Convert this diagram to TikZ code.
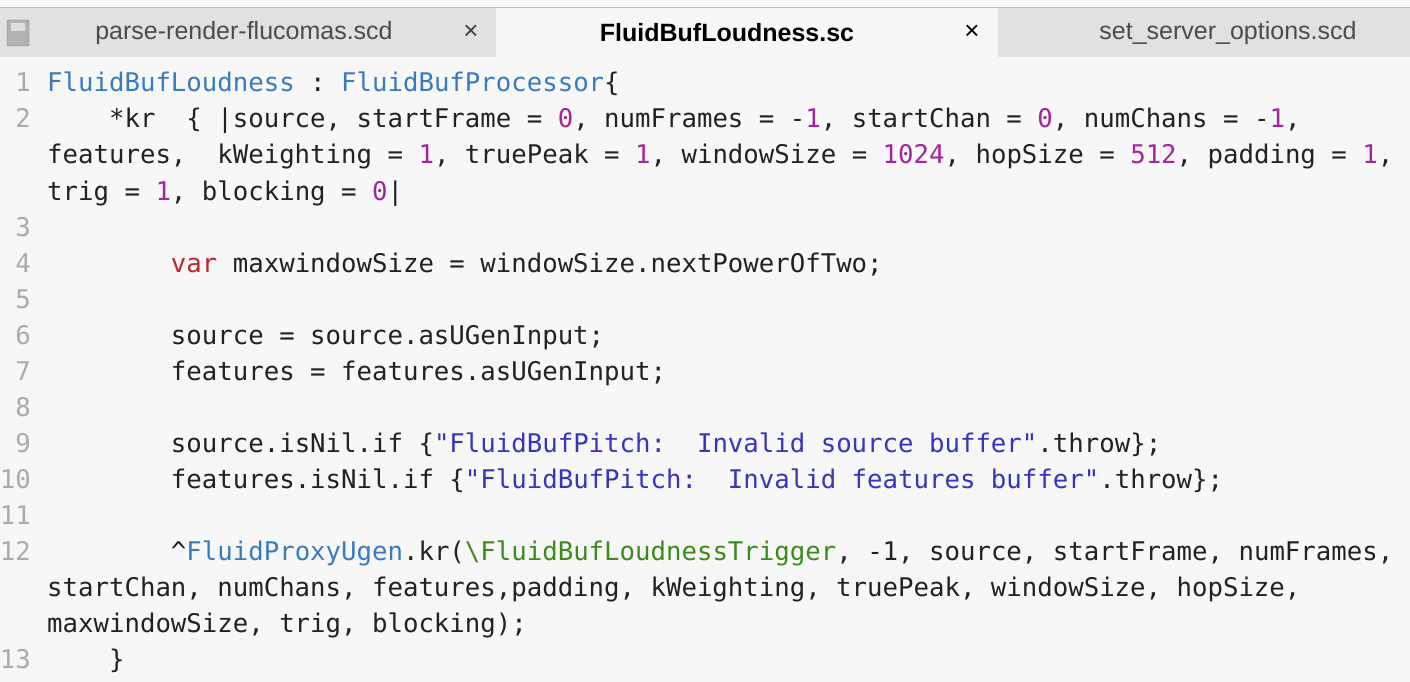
\documentclass[tikz,border=0pt]{standalone}
\usepackage{fontspec}
\setmainfont{Liberation Sans}
\setmonofont{DejaVu Sans Mono}
\definecolor{bg}{HTML}{F7F7F7}
\definecolor{tabgray}{HTML}{E1E1E1}
\definecolor{clsc}{HTML}{3A7BBF}
\definecolor{numc}{HTML}{A2259F}
\definecolor{kwc}{HTML}{C1272D}
\definecolor{strc}{HTML}{3535BE}
\definecolor{symc}{HTML}{3D8A1D}
\definecolor{lnc}{HTML}{ABABAB}
\definecolor{txt}{HTML}{222222}
\newcommand\cls[1]{\textcolor{clsc}{#1}}
\newcommand\nm[1]{\textcolor{numc}{#1}}
\newcommand\kw[1]{\textcolor{kwc}{#1}}
\newcommand\str[1]{\textcolor{strc}{#1}}
\newcommand\sym[1]{\textcolor{symc}{#1}}
\begin{document}
\begin{tikzpicture}[x=1pt,y=-1pt,
  code/.style={anchor=base west,inner sep=0pt,text=txt,font=\ttfamily\fontsize{25.7}{30}\selectfont},
  lnum/.style={anchor=base east,inner sep=0pt,text=lnc,font=\ttfamily\fontsize{25.7}{30}\selectfont},
  tabtxt/.style={inner sep=0pt,text=black!70,font=\fontsize{25}{30}\selectfont},
  tabx/.style={inner sep=0pt,text=black!75,font=\fontsize{26}{30}\selectfont}]
\useasboundingbox (0,0) rectangle (1410,682);
\fill[bg] (0,0) rectangle (1410,682);
\fill[tabgray] (0,8) rectangle (496,57);
\fill[tabgray] (998,8) rectangle (1410,57);
\draw[black!25,line width=1pt] (0,7.5) -- (1410,7.5);
% icon
\node[fill=black!30,draw=black!55,minimum width=22pt,minimum height=26pt,inner sep=0pt,rounded corners=2pt] (icon) at (18,33) {};
\node[fill=black!12,minimum width=14pt,minimum height=8pt,inner sep=0pt] (iconw) at (18,27) {};
\node[tabtxt] (t1) at (244,33) {parse-render-flucomas.scd};
\node[tabx] (x1) at (471,32) {×};
\node[tabtxt,text=black,font=\bfseries\fontsize{25}{30}\selectfont] (t2) at (727,33) {FluidBufLoudness.sc};
\node[tabx,text=black] (x2) at (972,32) {×};
\node[tabtxt] (t3) at (1228,33) {set\_server\_options.scd};
% line numbers
\foreach \n/\y in {1/92,2/128,3/236,4/272,5/308,6/344,7/380,8/416,9/452,10/488,11/524,12/560,13/668}
  \node[lnum] (ln\n) at (31,\y) {\n};
% code
\node[code] (c1) at (47,92) {\cls{FluidBufLoudness} : \cls{FluidBufProcessor}\{};
\node[code] (c2) at (47,128) {~~~~*kr~~\{ |source, startFrame = \nm{0}, numFrames = -\nm{1}, startChan = \nm{0}, numChans = -\nm{1},};
\node[code] (c2b) at (47,164) {features,~~kWeighting = \nm{1}, truePeak = \nm{1}, windowSize = \nm{1024}, hopSize = \nm{512}, padding = \nm{1},};
\node[code] (c2c) at (47,200) {trig = \nm{1}, blocking = \nm{0}|};
\node[code] (c4) at (47,272) {~~~~~~~~\kw{var} maxwindowSize = windowSize.nextPowerOfTwo;};
\node[code] (c6) at (47,344) {~~~~~~~~source = source.asUGenInput;};
\node[code] (c7) at (47,380) {~~~~~~~~features = features.asUGenInput;};
\node[code] (c9) at (47,452) {~~~~~~~~source.isNil.if \{\str{"FluidBufPitch:~~Invalid source buffer"}.throw\};};
\node[code] (c10) at (47,488) {~~~~~~~~features.isNil.if \{\str{"FluidBufPitch:~~Invalid features buffer"}.throw\};};
\node[code] (c12) at (47,560) {~~~~~~~~\textasciicircum\cls{FluidProxyUgen}.kr(\sym{\textbackslash FluidBufLoudnessTrigger}, -1, source, startFrame, numFrames,};
\node[code] (c12b) at (47,596) {startChan, numChans, features,padding, kWeighting, truePeak, windowSize, hopSize,};
\node[code] (c12c) at (47,632) {maxwindowSize, trig, blocking);};
\node[code] (c13) at (47,668) {~~~~\}};
\end{tikzpicture}
\end{document}
